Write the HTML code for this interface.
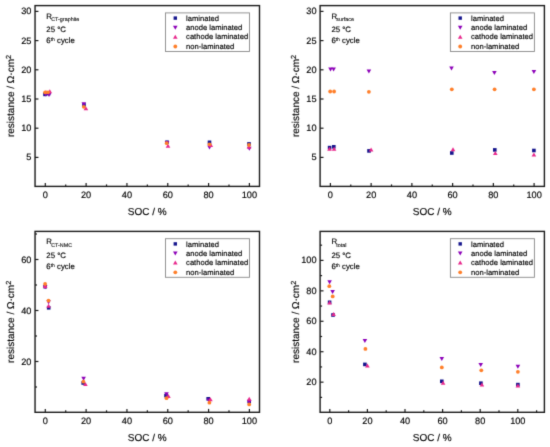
<!DOCTYPE html>
<html><head><meta charset="utf-8"><style>
html,body{margin:0;padding:0;background:#fff;}
body{width:550px;height:447px;overflow:hidden;}
svg{display:block;font-family:"Liberation Sans", sans-serif;text-rendering:geometricPrecision;}
text{stroke:#000;stroke-width:0.15px;}
</style></head><body>
<svg width="550" height="447" viewBox="0 0 550 447">
<defs><filter id="bl" x="0" y="0" width="1" height="1" color-interpolation-filters="sRGB"><feConvolveMatrix order="3" kernelMatrix="0.01440 0.09120 0.01440 0.09120 0.57760 0.09120 0.01440 0.09120 0.01440" divisor="1" edgeMode="duplicate" preserveAlpha="false"/></filter></defs>
<rect width="550" height="447" fill="#fff"/>
<g filter="url(#bl)">
<rect width="550" height="447" fill="#fff"/>
<g>
<rect x="35.05" y="5.60" width="224.45" height="180.80" fill="none" stroke="#1a1a1a" stroke-width="1.4"/>
<line x1="45.30" y1="186.40" x2="45.30" y2="183.00" stroke="#1a1a1a" stroke-width="1.2"/>
<text transform="translate(45.30,198.40) scale(1,1.0)" font-size="9.2" text-anchor="middle" fill="#000">0</text>
<line x1="86.12" y1="186.40" x2="86.12" y2="183.00" stroke="#1a1a1a" stroke-width="1.2"/>
<text transform="translate(86.12,198.40) scale(1,1.0)" font-size="9.2" text-anchor="middle" fill="#000">20</text>
<line x1="126.94" y1="186.40" x2="126.94" y2="183.00" stroke="#1a1a1a" stroke-width="1.2"/>
<text transform="translate(126.94,198.40) scale(1,1.0)" font-size="9.2" text-anchor="middle" fill="#000">40</text>
<line x1="167.76" y1="186.40" x2="167.76" y2="183.00" stroke="#1a1a1a" stroke-width="1.2"/>
<text transform="translate(167.76,198.40) scale(1,1.0)" font-size="9.2" text-anchor="middle" fill="#000">60</text>
<line x1="208.58" y1="186.40" x2="208.58" y2="183.00" stroke="#1a1a1a" stroke-width="1.2"/>
<text transform="translate(208.58,198.40) scale(1,1.0)" font-size="9.2" text-anchor="middle" fill="#000">80</text>
<line x1="249.40" y1="186.40" x2="249.40" y2="183.00" stroke="#1a1a1a" stroke-width="1.2"/>
<text transform="translate(249.40,198.40) scale(1,1.0)" font-size="9.2" text-anchor="middle" fill="#000">100</text>
<line x1="65.71" y1="186.40" x2="65.71" y2="184.40" stroke="#1a1a1a" stroke-width="1.2"/>
<line x1="106.53" y1="186.40" x2="106.53" y2="184.40" stroke="#1a1a1a" stroke-width="1.2"/>
<line x1="147.35" y1="186.40" x2="147.35" y2="184.40" stroke="#1a1a1a" stroke-width="1.2"/>
<line x1="188.17" y1="186.40" x2="188.17" y2="184.40" stroke="#1a1a1a" stroke-width="1.2"/>
<line x1="228.99" y1="186.40" x2="228.99" y2="184.40" stroke="#1a1a1a" stroke-width="1.2"/>
<line x1="35.05" y1="157.40" x2="38.45" y2="157.40" stroke="#1a1a1a" stroke-width="1.2"/>
<text transform="translate(31.45,160.45) scale(1,1.0)" font-size="9.2" text-anchor="end" fill="#000">5</text>
<line x1="35.05" y1="128.20" x2="38.45" y2="128.20" stroke="#1a1a1a" stroke-width="1.2"/>
<text transform="translate(31.45,131.25) scale(1,1.0)" font-size="9.2" text-anchor="end" fill="#000">10</text>
<line x1="35.05" y1="99.00" x2="38.45" y2="99.00" stroke="#1a1a1a" stroke-width="1.2"/>
<text transform="translate(31.45,102.05) scale(1,1.0)" font-size="9.2" text-anchor="end" fill="#000">15</text>
<line x1="35.05" y1="69.80" x2="38.45" y2="69.80" stroke="#1a1a1a" stroke-width="1.2"/>
<text transform="translate(31.45,72.85) scale(1,1.0)" font-size="9.2" text-anchor="end" fill="#000">20</text>
<line x1="35.05" y1="40.60" x2="38.45" y2="40.60" stroke="#1a1a1a" stroke-width="1.2"/>
<text transform="translate(31.45,43.65) scale(1,1.0)" font-size="9.2" text-anchor="end" fill="#000">25</text>
<line x1="35.05" y1="11.40" x2="38.45" y2="11.40" stroke="#1a1a1a" stroke-width="1.2"/>
<text transform="translate(31.45,14.45) scale(1,1.0)" font-size="9.2" text-anchor="end" fill="#000">30</text>
<text x="147.28" y="215.20" font-size="10" text-anchor="middle" fill="#000" >SOC / %</text>
<text transform="translate(13.95,96.00) rotate(-90)" font-size="10" text-anchor="middle" fill="#000">resistance / &#937;&#183;cm<tspan font-size="7.3" dy="-3.3">2</tspan></text>
<text x="46.35" y="18.50" font-size="7.8" text-anchor="start" fill="#000" >R<tspan font-size="5.4" dx="-0.8" dy="2.3" stroke-width="0.08">CT-graphite</tspan></text>
<text x="46.35" y="31.80" font-size="7.8" text-anchor="start" fill="#000" >25 &#176;C</text>
<text x="46.35" y="43.30" font-size="7.8" text-anchor="start" fill="#000" >6<tspan font-size="5.0" dy="-2.6" stroke-width="0.08">th</tspan><tspan dy="2.6"> cycle</tspan></text>
<rect x="165.50" y="12.90" width="84.00" height="38.60" fill="#fff" stroke="#888" stroke-width="0.9"/>
<rect x="173.60" y="16.40" width="3.40" height="3.40" fill="#14148c"/>
<path d="M173.00,25.70H177.60L175.30,29.70Z" fill="#8c00b8"/>
<path d="M173.00,38.80H177.60L175.30,34.80Z" fill="#e8288c"/>
<circle cx="175.30" cy="46.50" r="1.90" fill="#ff7f2a"/>
<text x="186.10" y="20.70" font-size="7.6" text-anchor="start" fill="#000" >laminated</text>
<text x="186.10" y="30.30" font-size="7.6" text-anchor="start" fill="#000" >anode laminated</text>
<text x="186.10" y="39.40" font-size="7.6" text-anchor="start" fill="#000" >cathode laminated</text>
<text x="186.10" y="49.10" font-size="7.6" text-anchor="start" fill="#000" >non-laminated</text>
<rect x="43.20" y="92.60" width="3.60" height="3.60" fill="#14148c"/>
<rect x="46.80" y="91.80" width="3.60" height="3.60" fill="#14148c"/>
<rect x="82.20" y="103.10" width="3.60" height="3.60" fill="#14148c"/>
<rect x="165.20" y="140.40" width="3.60" height="3.60" fill="#14148c"/>
<rect x="207.70" y="140.50" width="3.60" height="3.60" fill="#14148c"/>
<rect x="247.20" y="142.10" width="3.60" height="3.60" fill="#14148c"/>
<path d="M43.30,92.60H47.90L45.60,96.60Z" fill="#8c00b8"/>
<path d="M46.70,93.00H51.30L49.00,97.00Z" fill="#8c00b8"/>
<path d="M81.50,102.30H86.10L83.80,106.30Z" fill="#8c00b8"/>
<path d="M164.70,141.00H169.30L167.00,145.00Z" fill="#8c00b8"/>
<path d="M207.20,145.50H211.80L209.50,149.50Z" fill="#8c00b8"/>
<path d="M247.00,146.80H251.60L249.30,150.80Z" fill="#8c00b8"/>
<path d="M43.70,94.00H48.30L46.00,90.00Z" fill="#e8288c"/>
<path d="M47.50,93.30H52.10L49.80,89.30Z" fill="#e8288c"/>
<path d="M83.60,110.20H88.20L85.90,106.20Z" fill="#e8288c"/>
<path d="M165.70,147.80H170.30L168.00,143.80Z" fill="#e8288c"/>
<path d="M208.50,147.00H213.10L210.80,143.00Z" fill="#e8288c"/>
<path d="M246.70,148.80H251.30L249.00,144.80Z" fill="#e8288c"/>
<circle cx="45.10" cy="92.30" r="1.90" fill="#ff7f2a"/>
<circle cx="48.00" cy="92.30" r="1.90" fill="#ff7f2a"/>
<circle cx="83.80" cy="106.80" r="1.90" fill="#ff7f2a"/>
<circle cx="166.70" cy="143.20" r="1.90" fill="#ff7f2a"/>
<circle cx="209.50" cy="144.30" r="1.90" fill="#ff7f2a"/>
<circle cx="249.00" cy="145.00" r="1.90" fill="#ff7f2a"/>
</g>
<g>
<rect x="320.10" y="5.60" width="224.30" height="180.80" fill="none" stroke="#1a1a1a" stroke-width="1.4"/>
<line x1="330.40" y1="186.40" x2="330.40" y2="183.00" stroke="#1a1a1a" stroke-width="1.2"/>
<text transform="translate(330.40,198.40) scale(1,1.0)" font-size="9.2" text-anchor="middle" fill="#000">0</text>
<line x1="371.14" y1="186.40" x2="371.14" y2="183.00" stroke="#1a1a1a" stroke-width="1.2"/>
<text transform="translate(371.14,198.40) scale(1,1.0)" font-size="9.2" text-anchor="middle" fill="#000">20</text>
<line x1="411.88" y1="186.40" x2="411.88" y2="183.00" stroke="#1a1a1a" stroke-width="1.2"/>
<text transform="translate(411.88,198.40) scale(1,1.0)" font-size="9.2" text-anchor="middle" fill="#000">40</text>
<line x1="452.62" y1="186.40" x2="452.62" y2="183.00" stroke="#1a1a1a" stroke-width="1.2"/>
<text transform="translate(452.62,198.40) scale(1,1.0)" font-size="9.2" text-anchor="middle" fill="#000">60</text>
<line x1="493.36" y1="186.40" x2="493.36" y2="183.00" stroke="#1a1a1a" stroke-width="1.2"/>
<text transform="translate(493.36,198.40) scale(1,1.0)" font-size="9.2" text-anchor="middle" fill="#000">80</text>
<line x1="534.10" y1="186.40" x2="534.10" y2="183.00" stroke="#1a1a1a" stroke-width="1.2"/>
<text transform="translate(534.10,198.40) scale(1,1.0)" font-size="9.2" text-anchor="middle" fill="#000">100</text>
<line x1="350.77" y1="186.40" x2="350.77" y2="184.40" stroke="#1a1a1a" stroke-width="1.2"/>
<line x1="391.51" y1="186.40" x2="391.51" y2="184.40" stroke="#1a1a1a" stroke-width="1.2"/>
<line x1="432.25" y1="186.40" x2="432.25" y2="184.40" stroke="#1a1a1a" stroke-width="1.2"/>
<line x1="472.99" y1="186.40" x2="472.99" y2="184.40" stroke="#1a1a1a" stroke-width="1.2"/>
<line x1="513.73" y1="186.40" x2="513.73" y2="184.40" stroke="#1a1a1a" stroke-width="1.2"/>
<line x1="320.10" y1="157.40" x2="323.50" y2="157.40" stroke="#1a1a1a" stroke-width="1.2"/>
<text transform="translate(316.50,160.45) scale(1,1.0)" font-size="9.2" text-anchor="end" fill="#000">5</text>
<line x1="320.10" y1="128.20" x2="323.50" y2="128.20" stroke="#1a1a1a" stroke-width="1.2"/>
<text transform="translate(316.50,131.25) scale(1,1.0)" font-size="9.2" text-anchor="end" fill="#000">10</text>
<line x1="320.10" y1="99.00" x2="323.50" y2="99.00" stroke="#1a1a1a" stroke-width="1.2"/>
<text transform="translate(316.50,102.05) scale(1,1.0)" font-size="9.2" text-anchor="end" fill="#000">15</text>
<line x1="320.10" y1="69.80" x2="323.50" y2="69.80" stroke="#1a1a1a" stroke-width="1.2"/>
<text transform="translate(316.50,72.85) scale(1,1.0)" font-size="9.2" text-anchor="end" fill="#000">20</text>
<line x1="320.10" y1="40.60" x2="323.50" y2="40.60" stroke="#1a1a1a" stroke-width="1.2"/>
<text transform="translate(316.50,43.65) scale(1,1.0)" font-size="9.2" text-anchor="end" fill="#000">25</text>
<line x1="320.10" y1="11.40" x2="323.50" y2="11.40" stroke="#1a1a1a" stroke-width="1.2"/>
<text transform="translate(316.50,14.45) scale(1,1.0)" font-size="9.2" text-anchor="end" fill="#000">30</text>
<text x="432.25" y="215.20" font-size="10" text-anchor="middle" fill="#000" >SOC / %</text>
<text transform="translate(299.00,96.00) rotate(-90)" font-size="10" text-anchor="middle" fill="#000">resistance / &#937;&#183;cm<tspan font-size="7.3" dy="-3.3">2</tspan></text>
<text x="331.40" y="18.50" font-size="7.8" text-anchor="start" fill="#000" >R<tspan font-size="5.4" dx="-0.8" dy="2.3" stroke-width="0.08">surface</tspan></text>
<text x="331.40" y="31.80" font-size="7.8" text-anchor="start" fill="#000" >25 &#176;C</text>
<text x="331.40" y="43.30" font-size="7.8" text-anchor="start" fill="#000" >6<tspan font-size="5.0" dy="-2.6" stroke-width="0.08">th</tspan><tspan dy="2.6"> cycle</tspan></text>
<rect x="450.40" y="12.90" width="84.00" height="38.60" fill="#fff" stroke="#888" stroke-width="0.9"/>
<rect x="458.50" y="16.40" width="3.40" height="3.40" fill="#14148c"/>
<path d="M457.90,25.70H462.50L460.20,29.70Z" fill="#8c00b8"/>
<path d="M457.90,38.80H462.50L460.20,34.80Z" fill="#e8288c"/>
<circle cx="460.20" cy="46.50" r="1.90" fill="#ff7f2a"/>
<text x="471.00" y="20.70" font-size="7.6" text-anchor="start" fill="#000" >laminated</text>
<text x="471.00" y="30.30" font-size="7.6" text-anchor="start" fill="#000" >anode laminated</text>
<text x="471.00" y="39.40" font-size="7.6" text-anchor="start" fill="#000" >cathode laminated</text>
<text x="471.00" y="49.10" font-size="7.6" text-anchor="start" fill="#000" >non-laminated</text>
<rect x="327.80" y="145.80" width="3.60" height="3.60" fill="#14148c"/>
<rect x="332.00" y="145.00" width="3.60" height="3.60" fill="#14148c"/>
<rect x="367.20" y="149.10" width="3.60" height="3.60" fill="#14148c"/>
<rect x="450.00" y="151.20" width="3.60" height="3.60" fill="#14148c"/>
<rect x="493.00" y="148.10" width="3.60" height="3.60" fill="#14148c"/>
<rect x="532.10" y="148.70" width="3.60" height="3.60" fill="#14148c"/>
<path d="M328.20,67.40H332.80L330.50,71.40Z" fill="#8c00b8"/>
<path d="M331.30,67.40H335.90L333.60,71.40Z" fill="#8c00b8"/>
<path d="M366.60,69.40H371.20L368.90,73.40Z" fill="#8c00b8"/>
<path d="M449.20,66.60H453.80L451.50,70.60Z" fill="#8c00b8"/>
<path d="M492.10,71.00H496.70L494.40,75.00Z" fill="#8c00b8"/>
<path d="M531.60,69.90H536.20L533.90,73.90Z" fill="#8c00b8"/>
<path d="M327.20,150.70H331.80L329.50,146.70Z" fill="#e8288c"/>
<path d="M331.80,150.70H336.40L334.10,146.70Z" fill="#e8288c"/>
<path d="M368.80,151.60H373.40L371.10,147.60Z" fill="#e8288c"/>
<path d="M450.70,151.30H455.30L453.00,147.30Z" fill="#e8288c"/>
<path d="M493.00,155.00H497.60L495.30,151.00Z" fill="#e8288c"/>
<path d="M531.60,156.50H536.20L533.90,152.50Z" fill="#e8288c"/>
<circle cx="330.20" cy="91.50" r="1.90" fill="#ff7f2a"/>
<circle cx="334.10" cy="91.50" r="1.90" fill="#ff7f2a"/>
<circle cx="368.90" cy="91.80" r="1.90" fill="#ff7f2a"/>
<circle cx="451.80" cy="89.30" r="1.90" fill="#ff7f2a"/>
<circle cx="494.60" cy="89.30" r="1.90" fill="#ff7f2a"/>
<circle cx="533.90" cy="89.30" r="1.90" fill="#ff7f2a"/>
</g>
<g>
<rect x="35.05" y="231.40" width="224.45" height="180.90" fill="none" stroke="#1a1a1a" stroke-width="1.4"/>
<line x1="45.30" y1="412.30" x2="45.30" y2="408.90" stroke="#1a1a1a" stroke-width="1.2"/>
<text transform="translate(45.30,424.30) scale(1,1.0)" font-size="9.2" text-anchor="middle" fill="#000">0</text>
<line x1="86.12" y1="412.30" x2="86.12" y2="408.90" stroke="#1a1a1a" stroke-width="1.2"/>
<text transform="translate(86.12,424.30) scale(1,1.0)" font-size="9.2" text-anchor="middle" fill="#000">20</text>
<line x1="126.94" y1="412.30" x2="126.94" y2="408.90" stroke="#1a1a1a" stroke-width="1.2"/>
<text transform="translate(126.94,424.30) scale(1,1.0)" font-size="9.2" text-anchor="middle" fill="#000">40</text>
<line x1="167.76" y1="412.30" x2="167.76" y2="408.90" stroke="#1a1a1a" stroke-width="1.2"/>
<text transform="translate(167.76,424.30) scale(1,1.0)" font-size="9.2" text-anchor="middle" fill="#000">60</text>
<line x1="208.58" y1="412.30" x2="208.58" y2="408.90" stroke="#1a1a1a" stroke-width="1.2"/>
<text transform="translate(208.58,424.30) scale(1,1.0)" font-size="9.2" text-anchor="middle" fill="#000">80</text>
<line x1="249.40" y1="412.30" x2="249.40" y2="408.90" stroke="#1a1a1a" stroke-width="1.2"/>
<text transform="translate(249.40,424.30) scale(1,1.0)" font-size="9.2" text-anchor="middle" fill="#000">100</text>
<line x1="65.71" y1="412.30" x2="65.71" y2="410.30" stroke="#1a1a1a" stroke-width="1.2"/>
<line x1="106.53" y1="412.30" x2="106.53" y2="410.30" stroke="#1a1a1a" stroke-width="1.2"/>
<line x1="147.35" y1="412.30" x2="147.35" y2="410.30" stroke="#1a1a1a" stroke-width="1.2"/>
<line x1="188.17" y1="412.30" x2="188.17" y2="410.30" stroke="#1a1a1a" stroke-width="1.2"/>
<line x1="228.99" y1="412.30" x2="228.99" y2="410.30" stroke="#1a1a1a" stroke-width="1.2"/>
<line x1="35.05" y1="361.50" x2="38.45" y2="361.50" stroke="#1a1a1a" stroke-width="1.2"/>
<text transform="translate(31.45,364.55) scale(1,1.0)" font-size="9.2" text-anchor="end" fill="#000">20</text>
<line x1="35.05" y1="310.50" x2="38.45" y2="310.50" stroke="#1a1a1a" stroke-width="1.2"/>
<text transform="translate(31.45,313.55) scale(1,1.0)" font-size="9.2" text-anchor="end" fill="#000">40</text>
<line x1="35.05" y1="259.50" x2="38.45" y2="259.50" stroke="#1a1a1a" stroke-width="1.2"/>
<text transform="translate(31.45,262.55) scale(1,1.0)" font-size="9.2" text-anchor="end" fill="#000">60</text>
<line x1="35.05" y1="387.00" x2="37.05" y2="387.00" stroke="#1a1a1a" stroke-width="1.2"/>
<line x1="35.05" y1="336.00" x2="37.05" y2="336.00" stroke="#1a1a1a" stroke-width="1.2"/>
<line x1="35.05" y1="285.00" x2="37.05" y2="285.00" stroke="#1a1a1a" stroke-width="1.2"/>
<line x1="35.05" y1="234.00" x2="37.05" y2="234.00" stroke="#1a1a1a" stroke-width="1.2"/>
<text x="147.28" y="441.10" font-size="10" text-anchor="middle" fill="#000" >SOC / %</text>
<text transform="translate(13.95,321.85) rotate(-90)" font-size="10" text-anchor="middle" fill="#000">resistance / &#937;&#183;cm<tspan font-size="7.3" dy="-3.3">2</tspan></text>
<text x="46.35" y="244.30" font-size="7.8" text-anchor="start" fill="#000" >R<tspan font-size="5.4" dx="-0.8" dy="2.3" stroke-width="0.08">CT-NMC</tspan></text>
<text x="46.35" y="257.60" font-size="7.8" text-anchor="start" fill="#000" >25 &#176;C</text>
<text x="46.35" y="269.10" font-size="7.8" text-anchor="start" fill="#000" >6<tspan font-size="5.0" dy="-2.6" stroke-width="0.08">th</tspan><tspan dy="2.6"> cycle</tspan></text>
<rect x="165.50" y="238.70" width="84.00" height="38.60" fill="#fff" stroke="#888" stroke-width="0.9"/>
<rect x="173.60" y="242.20" width="3.40" height="3.40" fill="#14148c"/>
<path d="M173.00,251.50H177.60L175.30,255.50Z" fill="#8c00b8"/>
<path d="M173.00,264.60H177.60L175.30,260.60Z" fill="#e8288c"/>
<circle cx="175.30" cy="272.30" r="1.90" fill="#ff7f2a"/>
<text x="186.10" y="246.50" font-size="7.6" text-anchor="start" fill="#000" >laminated</text>
<text x="186.10" y="256.10" font-size="7.6" text-anchor="start" fill="#000" >anode laminated</text>
<text x="186.10" y="265.20" font-size="7.6" text-anchor="start" fill="#000" >cathode laminated</text>
<text x="186.10" y="274.90" font-size="7.6" text-anchor="start" fill="#000" >non-laminated</text>
<rect x="43.40" y="284.90" width="3.60" height="3.60" fill="#14148c"/>
<rect x="46.90" y="306.00" width="3.60" height="3.60" fill="#14148c"/>
<rect x="81.40" y="381.20" width="3.60" height="3.60" fill="#14148c"/>
<rect x="164.20" y="393.80" width="3.60" height="3.60" fill="#14148c"/>
<rect x="206.40" y="397.00" width="3.60" height="3.60" fill="#14148c"/>
<rect x="247.40" y="399.70" width="3.60" height="3.60" fill="#14148c"/>
<path d="M42.90,285.30H47.50L45.20,289.30Z" fill="#8c00b8"/>
<path d="M46.30,300.30H50.90L48.60,304.30Z" fill="#8c00b8"/>
<path d="M81.30,376.80H85.90L83.60,380.80Z" fill="#8c00b8"/>
<path d="M164.20,392.20H168.80L166.50,396.20Z" fill="#8c00b8"/>
<path d="M206.50,398.60H211.10L208.80,402.60Z" fill="#8c00b8"/>
<path d="M246.90,400.00H251.50L249.20,404.00Z" fill="#8c00b8"/>
<path d="M42.90,287.90H47.50L45.20,283.90Z" fill="#e8288c"/>
<path d="M46.30,307.80H50.90L48.60,303.80Z" fill="#e8288c"/>
<path d="M83.10,385.90H87.70L85.40,381.90Z" fill="#e8288c"/>
<path d="M166.10,398.00H170.70L168.40,394.00Z" fill="#e8288c"/>
<path d="M208.10,401.20H212.70L210.40,397.20Z" fill="#e8288c"/>
<path d="M246.90,400.80H251.50L249.20,396.80Z" fill="#e8288c"/>
<circle cx="45.10" cy="284.00" r="1.90" fill="#ff7f2a"/>
<circle cx="48.50" cy="300.70" r="1.90" fill="#ff7f2a"/>
<circle cx="83.40" cy="381.70" r="1.90" fill="#ff7f2a"/>
<circle cx="166.50" cy="398.20" r="1.90" fill="#ff7f2a"/>
<circle cx="209.40" cy="402.70" r="1.90" fill="#ff7f2a"/>
<circle cx="249.20" cy="404.40" r="1.90" fill="#ff7f2a"/>
</g>
<g>
<rect x="320.10" y="231.40" width="224.30" height="180.90" fill="none" stroke="#1a1a1a" stroke-width="1.4"/>
<line x1="329.80" y1="412.30" x2="329.80" y2="408.90" stroke="#1a1a1a" stroke-width="1.2"/>
<text transform="translate(329.80,424.30) scale(1,1.0)" font-size="9.2" text-anchor="middle" fill="#000">0</text>
<line x1="367.40" y1="412.30" x2="367.40" y2="408.90" stroke="#1a1a1a" stroke-width="1.2"/>
<text transform="translate(367.40,424.30) scale(1,1.0)" font-size="9.2" text-anchor="middle" fill="#000">20</text>
<line x1="405.00" y1="412.30" x2="405.00" y2="408.90" stroke="#1a1a1a" stroke-width="1.2"/>
<text transform="translate(405.00,424.30) scale(1,1.0)" font-size="9.2" text-anchor="middle" fill="#000">40</text>
<line x1="442.60" y1="412.30" x2="442.60" y2="408.90" stroke="#1a1a1a" stroke-width="1.2"/>
<text transform="translate(442.60,424.30) scale(1,1.0)" font-size="9.2" text-anchor="middle" fill="#000">60</text>
<line x1="480.20" y1="412.30" x2="480.20" y2="408.90" stroke="#1a1a1a" stroke-width="1.2"/>
<text transform="translate(480.20,424.30) scale(1,1.0)" font-size="9.2" text-anchor="middle" fill="#000">80</text>
<line x1="517.80" y1="412.30" x2="517.80" y2="408.90" stroke="#1a1a1a" stroke-width="1.2"/>
<text transform="translate(517.80,424.30) scale(1,1.0)" font-size="9.2" text-anchor="middle" fill="#000">100</text>
<line x1="348.60" y1="412.30" x2="348.60" y2="410.30" stroke="#1a1a1a" stroke-width="1.2"/>
<line x1="386.20" y1="412.30" x2="386.20" y2="410.30" stroke="#1a1a1a" stroke-width="1.2"/>
<line x1="423.80" y1="412.30" x2="423.80" y2="410.30" stroke="#1a1a1a" stroke-width="1.2"/>
<line x1="461.40" y1="412.30" x2="461.40" y2="410.30" stroke="#1a1a1a" stroke-width="1.2"/>
<line x1="499.00" y1="412.30" x2="499.00" y2="410.30" stroke="#1a1a1a" stroke-width="1.2"/>
<line x1="536.60" y1="412.30" x2="536.60" y2="410.30" stroke="#1a1a1a" stroke-width="1.2"/>
<line x1="320.10" y1="382.16" x2="323.50" y2="382.16" stroke="#1a1a1a" stroke-width="1.2"/>
<text transform="translate(316.50,385.21) scale(1,1.0)" font-size="9.2" text-anchor="end" fill="#000">20</text>
<line x1="320.10" y1="351.72" x2="323.50" y2="351.72" stroke="#1a1a1a" stroke-width="1.2"/>
<text transform="translate(316.50,354.77) scale(1,1.0)" font-size="9.2" text-anchor="end" fill="#000">40</text>
<line x1="320.10" y1="321.28" x2="323.50" y2="321.28" stroke="#1a1a1a" stroke-width="1.2"/>
<text transform="translate(316.50,324.33) scale(1,1.0)" font-size="9.2" text-anchor="end" fill="#000">60</text>
<line x1="320.10" y1="290.84" x2="323.50" y2="290.84" stroke="#1a1a1a" stroke-width="1.2"/>
<text transform="translate(316.50,293.89) scale(1,1.0)" font-size="9.2" text-anchor="end" fill="#000">80</text>
<line x1="320.10" y1="260.40" x2="323.50" y2="260.40" stroke="#1a1a1a" stroke-width="1.2"/>
<text transform="translate(316.50,263.45) scale(1,1.0)" font-size="9.2" text-anchor="end" fill="#000">100</text>
<line x1="320.10" y1="397.38" x2="322.10" y2="397.38" stroke="#1a1a1a" stroke-width="1.2"/>
<line x1="320.10" y1="366.94" x2="322.10" y2="366.94" stroke="#1a1a1a" stroke-width="1.2"/>
<line x1="320.10" y1="336.50" x2="322.10" y2="336.50" stroke="#1a1a1a" stroke-width="1.2"/>
<line x1="320.10" y1="306.06" x2="322.10" y2="306.06" stroke="#1a1a1a" stroke-width="1.2"/>
<line x1="320.10" y1="275.62" x2="322.10" y2="275.62" stroke="#1a1a1a" stroke-width="1.2"/>
<line x1="320.10" y1="245.18" x2="322.10" y2="245.18" stroke="#1a1a1a" stroke-width="1.2"/>
<text x="432.25" y="441.10" font-size="10" text-anchor="middle" fill="#000" >SOC / %</text>
<text transform="translate(299.00,321.85) rotate(-90)" font-size="10" text-anchor="middle" fill="#000">resistance / &#937;&#183;cm<tspan font-size="7.3" dy="-3.3">2</tspan></text>
<text x="331.40" y="244.30" font-size="7.8" text-anchor="start" fill="#000" >R<tspan font-size="5.4" dx="-0.8" dy="2.3" stroke-width="0.08">total</tspan></text>
<text x="331.40" y="257.60" font-size="7.8" text-anchor="start" fill="#000" >25 &#176;C</text>
<text x="331.40" y="269.10" font-size="7.8" text-anchor="start" fill="#000" >6<tspan font-size="5.0" dy="-2.6" stroke-width="0.08">th</tspan><tspan dy="2.6"> cycle</tspan></text>
<rect x="450.40" y="238.70" width="84.00" height="38.60" fill="#fff" stroke="#888" stroke-width="0.9"/>
<rect x="458.50" y="242.20" width="3.40" height="3.40" fill="#14148c"/>
<path d="M457.90,251.50H462.50L460.20,255.50Z" fill="#8c00b8"/>
<path d="M457.90,264.60H462.50L460.20,260.60Z" fill="#e8288c"/>
<circle cx="460.20" cy="272.30" r="1.90" fill="#ff7f2a"/>
<text x="471.00" y="246.50" font-size="7.6" text-anchor="start" fill="#000" >laminated</text>
<text x="471.00" y="256.10" font-size="7.6" text-anchor="start" fill="#000" >anode laminated</text>
<text x="471.00" y="265.20" font-size="7.6" text-anchor="start" fill="#000" >cathode laminated</text>
<text x="471.00" y="274.90" font-size="7.6" text-anchor="start" fill="#000" >non-laminated</text>
<rect x="327.80" y="300.50" width="3.60" height="3.60" fill="#14148c"/>
<rect x="331.20" y="313.20" width="3.60" height="3.60" fill="#14148c"/>
<rect x="363.10" y="362.60" width="3.60" height="3.60" fill="#14148c"/>
<rect x="440.00" y="379.50" width="3.60" height="3.60" fill="#14148c"/>
<rect x="479.10" y="381.40" width="3.60" height="3.60" fill="#14148c"/>
<rect x="516.10" y="382.80" width="3.60" height="3.60" fill="#14148c"/>
<path d="M327.30,280.20H331.90L329.60,284.20Z" fill="#8c00b8"/>
<path d="M330.30,290.00H334.90L332.60,294.00Z" fill="#8c00b8"/>
<path d="M362.60,338.90H367.20L364.90,342.90Z" fill="#8c00b8"/>
<path d="M439.50,356.90H444.10L441.80,360.90Z" fill="#8c00b8"/>
<path d="M478.40,363.00H483.00L480.70,367.00Z" fill="#8c00b8"/>
<path d="M515.60,364.80H520.20L517.90,368.80Z" fill="#8c00b8"/>
<path d="M327.30,304.50H331.90L329.60,300.50Z" fill="#e8288c"/>
<path d="M331.30,315.90H335.90L333.60,311.90Z" fill="#e8288c"/>
<path d="M365.10,367.50H369.70L367.40,363.50Z" fill="#e8288c"/>
<path d="M440.80,384.70H445.40L443.10,380.70Z" fill="#e8288c"/>
<path d="M479.60,386.60H484.20L481.90,382.60Z" fill="#e8288c"/>
<path d="M515.60,387.50H520.20L517.90,383.50Z" fill="#e8288c"/>
<circle cx="329.30" cy="286.20" r="1.90" fill="#ff7f2a"/>
<circle cx="332.70" cy="296.40" r="1.90" fill="#ff7f2a"/>
<circle cx="365.40" cy="348.90" r="1.90" fill="#ff7f2a"/>
<circle cx="441.80" cy="367.40" r="1.90" fill="#ff7f2a"/>
<circle cx="481.30" cy="370.30" r="1.90" fill="#ff7f2a"/>
<circle cx="517.90" cy="371.80" r="1.90" fill="#ff7f2a"/>
</g>
</g>
</svg>
</body></html>
